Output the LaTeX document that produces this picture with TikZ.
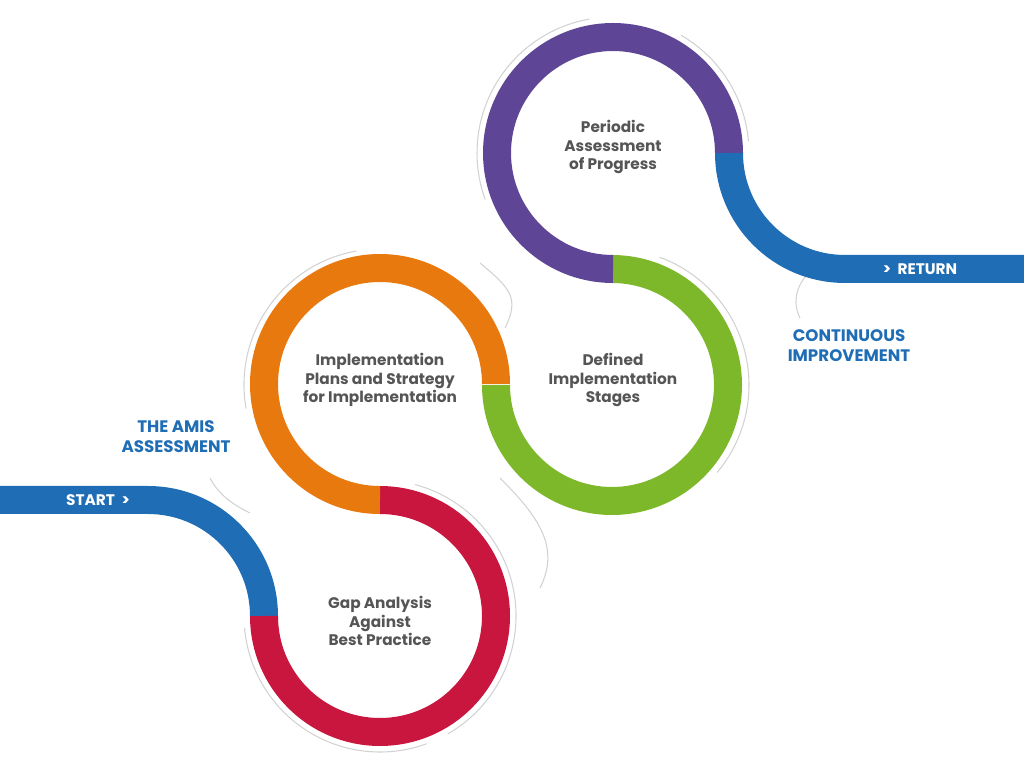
\documentclass[tikz,border=0pt]{standalone}
\usepackage{fontspec}
\setmainfont{Poppins}
\definecolor{cblue}{HTML}{1F6DB5}
\definecolor{cred}{HTML}{C8163F}
\definecolor{corange}{HTML}{E8790E}
\definecolor{cgreen}{HTML}{7DB82A}
\definecolor{cpurple}{HTML}{5E4596}
\definecolor{ctext}{HTML}{555555}
\begin{document}
\begin{tikzpicture}[x=0.75pt,y=0.75pt,
  band/.style={line width=21pt},
  thin/.style={gray!35,line width=0.8pt},
  ctr/.style={align=center,text=ctext,font=\fontsize{11.5}{14}\selectfont\bfseries},
  lbl/.style={align=center,text=cblue,font=\fontsize{12.5}{15}\selectfont\bfseries},
  tag/.style={text=white,font=\fontsize{11.5}{14}\selectfont\bfseries}]
\useasboundingbox (0,0) rectangle (1024,768);
% thin decorative arcs
\draw[thin] (380,152) ++(-60:136) arc (-60:75:136);
\draw[thin] (380,152) ++(185:136) arc (185:290:136);
\draw[thin] (380,383) ++(100:136) arc (100:190:136);
\draw[thin] (613,383) ++(-40:136) arc (-40:70:136);
\draw[thin] (613,615) ++(100:136) arc (100:200:136);
\draw[thin] (613,615) ++(5:136) arc (5:60:136);
\draw[thin] (500,290) .. controls (540,250) and (560,220) .. (540,180);
\draw[thin] (480,505) .. controls (510,480) and (520,470) .. (505,440);
\draw[thin] (800,450) .. controls (790,470) and (800,490) .. (815,500);
\draw[thin] (210,290) .. controls (220,270) and (240,260) .. (250,255);
% path coordinates
\coordinate (s0) at (0,268);
\coordinate (s1) at (148,268);
\coordinate (r0) at (264,152);
\coordinate (o0) at (380,268);
\coordinate (g0) at (496,383);
\coordinate (p0) at (613,499);
\coordinate (b0) at (729,615);
\coordinate (b1) at (845,499);
\coordinate (e0) at (1024,499);
\draw[band,cblue] (s0) -- (s1) arc (90:0:116);
\draw[band,cred] (r0) arc (180:450:116);
\draw[band,corange] (o0) arc (270:0:116);
\draw[band,cgreen] (g0) arc (180:450:116);
\draw[band,cpurple] (p0) arc (270:0:116);
\draw[band,cblue] (b0) arc (180:270:116) -- (e0);
% texts
\node[ctr] (t1) at (380,147) {Gap Analysis\\Against\\Best Practice};
\node[ctr] (t2) at (380,388) {Implementation\\Plans and Strategy\\for Implementation};
\node[ctr] (t3) at (613,388) {Defined\\Implementation\\Stages};
\node[ctr] (t4) at (613,621) {Periodic\\Assessment\\of Progress};
\node[tag] (st) at (98,268) {START\ \ >};
\node[tag] (rt) at (920,499) {>\ \ RETURN};
\node[lbl] (amis) at (176,331) {THE AMIS\\ASSESSMENT};
\node[lbl] (ci) at (849,422) {CONTINUOUS\\IMPROVEMENT};
\end{tikzpicture}
\end{document}
